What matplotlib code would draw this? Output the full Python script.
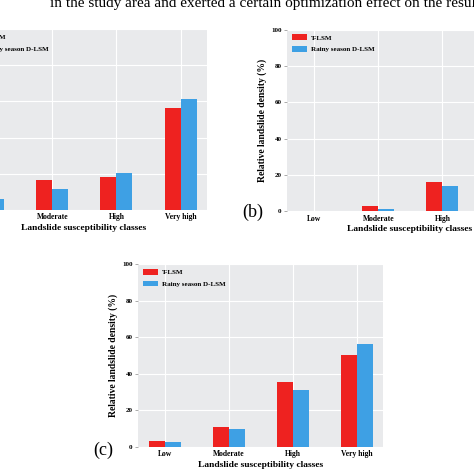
import numpy as np
import matplotlib
matplotlib.use("Agg")
import matplotlib.pyplot as plt

plt.rcParams['font.family'] = ['Liberation Serif', 'DejaVu Serif']

classes = ["Low", "Moderate", "High", "Very high"]
series_names = ["T-LSM", "Rainy season D-LSM"]

# panel (a) - only partly visible
a_tlsm = [9.0, 16.6, 18.0, 56.4]
a_rainy = [6.1, 11.6, 20.4, 61.2]
# panel (b) - only partly visible
b_tlsm = [0.3, 2.8, 16.0, 80.9]
b_rainy = [0.1, 1.5, 14.0, 84.4]
# panel (c)
c_tlsm = [3.3, 11.1, 35.3, 50.5]
c_rainy = [2.9, 9.6, 30.9, 56.4]

yticks = [0, 20, 40, 60, 80, 100]

red = "#ee2220"
blue = "#3ea0e4"
bg = "#e9eaec"

fig = plt.figure(figsize=(4.74, 4.74), dpi=100)


def panel(rect, t_vals, r_vals, letter=None, letter_xy=None):
    ax = fig.add_axes(rect)
    ax.set_facecolor(bg)
    x = np.arange(len(classes))
    w = 0.25
    ax.bar(x - w / 2, t_vals, w, color=red, label=series_names[0], zorder=3)
    ax.bar(x + w / 2, r_vals, w, color=blue, label=series_names[1], zorder=3)
    ax.set_xlim(-0.42, 3.41)
    ax.set_ylim(0, 100)
    ax.set_xticks(x)
    ax.set_xticklabels(classes, fontsize=5.5, fontweight='bold')
    ax.set_yticks(yticks)
    ax.set_yticklabels([str(v) for v in yticks], fontsize=5, fontweight='bold')
    ax.tick_params(axis='x', length=0, pad=2.5)
    ax.tick_params(axis='y', length=2, width=0.5, color='#888888', pad=2)
    ax.grid(True, color='white', linewidth=0.8, zorder=0)
    for s in ax.spines.values():
        s.set_visible(False)
    ax.set_xlabel("Landslide susceptibility classes", fontsize=6.8,
                  fontweight='bold', labelpad=1.5)
    ax.set_ylabel("Relative landslide density (%)", fontsize=6.9,
                  fontweight='bold', labelpad=3)
    ax.legend(loc='upper left', frameon=False,
              prop={'size': 5, 'weight': 'bold'},
              handlelength=2.2, handleheight=0.9, handletextpad=0.6,
              borderaxespad=0.3, labelspacing=0.8)
    if letter:
        fig.text(letter_xy[0], letter_xy[1], letter, fontsize=13,
                 ha='center', va='center')
    return ax


panel([-39 / 474, 1 - 210 / 474, 246 / 474, 181 / 474], a_tlsm, a_rainy)
panel([287 / 474, 1 - 211.5 / 474, 246 / 474, 182 / 474], b_tlsm, b_rainy,
      "(b)", (253 / 474, 1 - 212 / 474))
panel([138 / 474, 1 - 447 / 474, 245 / 474, 183 / 474], c_tlsm, c_rainy,
      "(c)", (103 / 474, 1 - 450 / 474))

fig.text(50 / 474, 1 - 6.5 / 474,
         "in the study area and exerted a certain optimization effect on the resulting",
         fontsize=11, ha='left', va='baseline')

fig.savefig("out.png", dpi=100)
